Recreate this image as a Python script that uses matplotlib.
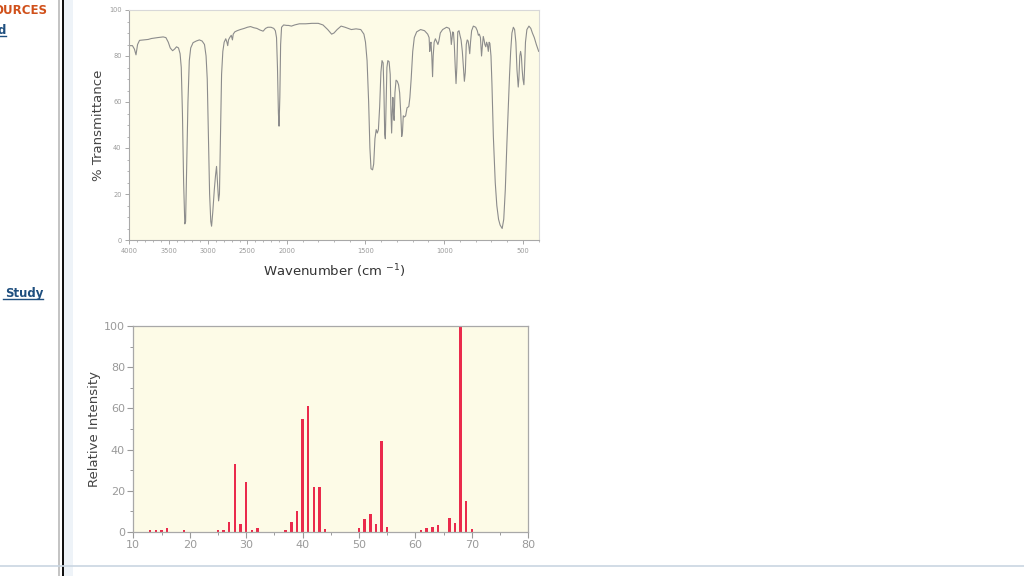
import numpy as np
import matplotlib
matplotlib.use('Agg')
import matplotlib.pyplot as plt
from matplotlib.lines import Line2D
from matplotlib.patches import Rectangle

# IR spectrum (wavenumber cm-1, % transmittance)
ir_wn = [4000, 3960, 3935, 3915, 3895, 3870, 3820, 3760, 3720, 3640,
         3570, 3535, 3505, 3480, 3450, 3425, 3400, 3375, 3355, 3340,
         3325, 3310, 3295, 3285, 3272, 3255, 3238, 3220, 3190, 3150,
         3110, 3075, 3045, 3025, 3010, 2995, 2980, 2965, 2955, 2940,
         2920, 2905, 2892, 2880, 2866, 2855, 2842, 2828, 2812, 2795,
         2775, 2760, 2750, 2740, 2725, 2705, 2690, 2680, 2660, 2630,
         2590, 2540, 2500, 2460, 2420, 2380, 2340, 2300, 2270, 2240,
         2200, 2165, 2145, 2130, 2118, 2106, 2098, 2088, 2078, 2066,
         2040, 2000, 1990, 1970, 1950, 1920, 1880, 1840, 1800, 1770,
         1740, 1715, 1700, 1680, 1655, 1630, 1610, 1590, 1560, 1530,
         1510, 1500, 1490, 1480, 1472, 1465, 1455, 1448, 1440, 1432,
         1425, 1418, 1410, 1402, 1395, 1388, 1383, 1378, 1374, 1369,
         1364, 1358, 1350, 1343, 1338, 1334, 1330, 1326, 1322, 1318,
         1313, 1306, 1298, 1290, 1283, 1276, 1270, 1265, 1260, 1253,
         1245, 1236, 1225, 1218, 1210, 1200, 1190, 1175, 1150, 1125,
         1105, 1096, 1092, 1088, 1084, 1079, 1074, 1070, 1064, 1056,
         1046, 1040, 1034, 1025, 1010, 985, 968, 960, 955, 950,
         946, 941, 936, 930, 925, 920, 914, 906, 900, 893,
         885, 878, 872, 866, 860, 854, 848, 843, 838, 833,
         826, 815, 800, 790, 783, 777, 770, 763, 757, 752,
         747, 742, 736, 731, 726, 720, 715, 710, 703, 697,
         688, 676, 666, 655, 645, 632, 622, 612, 602, 593,
         585, 578, 570, 561, 553, 545, 538, 530, 526, 520,
         515, 510, 505, 500, 494, 490, 484, 475, 462, 450,
         440, 428, 415, 400]
ir_t = [84.5, 84.5, 83, 80.5, 85, 86.8, 87, 87.2, 87.6, 88,
        88.3, 88, 86, 83.5, 82.3, 83, 84, 83.5, 81, 75,
        55, 25, 7, 8, 30, 60, 78, 83.5, 85.8, 86.5,
        87, 86.5, 85, 80, 70, 45, 20, 8, 6, 12,
        22, 28, 32, 25, 17, 20, 45, 72, 82, 86,
        87.5, 86, 84.5, 87, 88, 89, 87, 89.5, 90.5, 91,
        91.5, 92, 92.5, 92.8, 92.3, 92, 91.3, 90.8, 92, 92.5,
        92.5, 92, 91, 88, 75, 55, 49.5, 62, 85, 92.5,
        93.5, 93.3, 93.3, 93, 93.5, 94, 94, 94.2, 94.2, 93.5,
        91.5, 89.5, 90, 91.5, 93, 92.5, 92, 91.5, 91.8, 91.5,
        89.5, 86, 78, 60, 40, 31, 30.5, 33, 44, 48,
        46.5, 48, 58, 73, 78, 77, 65, 46, 44, 60,
        75, 78, 77.5, 72, 55, 46.5, 56, 62, 54, 52,
        64, 69.5, 69, 67.5, 64, 55, 45, 47, 54, 53.5,
        54, 57.5, 58, 62, 70, 82, 88, 90.5, 91.5, 91,
        89.5, 88, 82, 85, 86, 80, 71, 80, 86, 87.5,
        86, 85, 86.5, 90, 91.5, 92.5, 92, 90, 85, 88,
        90.5, 90, 85, 75, 68, 75, 90.5, 91, 89, 87,
        82, 75, 69, 73, 85, 87, 86.5, 84, 81, 86,
        91, 93, 92.5, 91, 89, 89.5, 88, 80, 85, 88.5,
        87, 85, 84, 86, 85, 82, 86, 85.5, 80, 68,
        45, 25, 15, 9, 6.5, 5, 9, 22, 42, 58,
        72, 82, 90, 92.5, 91.5, 86, 74, 66.5, 70, 80,
        82, 80, 74, 70, 67.5, 74, 86, 91.5, 93, 92,
        90, 88, 85, 82]
ir_xticks = [4000, 3500, 3000, 2500, 2000, 1500, 1000, 500]
ir_yticks = [0, 20, 40, 60, 80, 100]

# mass spectrum (m/z, relative intensity)
ms_mz = [13, 14, 15, 16, 19, 25, 26, 27, 28, 29, 30, 31, 32,
         37, 38, 39, 40, 41, 42, 43, 44,
         50, 51, 52, 53, 54, 55,
         61, 62, 63, 64, 66, 67, 68, 69, 70]
ms_int = [1, 1, 1, 2, 1, 1, 1, 5, 33, 4, 24.5, 1, 2,
          1, 5, 10, 55, 61, 22, 22, 1.5,
          2, 6.5, 8.5, 4, 44, 2.5,
          1, 2, 2.5, 3.5, 7, 4.5, 100, 15, 1.5]
ms_xticks = [10, 20, 30, 40, 50, 60, 70, 80]
ms_yticks = [0, 20, 40, 60, 80, 100]

W, H = 1024, 576
bg = '#fdfbe7'
tick_col = '#9a9a9a'
spine_col = '#a8a8a8'


def fx(px):
    return px / W


def fy(py):
    return 1 - py / H


# wavenumber axis: below 2000 cm-1 the scale is stretched twice
def fwd(w):
    w = np.asarray(w, dtype=float)
    return np.where(w >= 2000, (w - 2000) / 2.0, w - 2000)


def inv(u):
    u = np.asarray(u, dtype=float)
    return np.where(u >= 0, 2000 + 2.0 * u, u + 2000)


fig = plt.figure(figsize=(W / 100, H / 100), dpi=100)
fig.patch.set_facecolor('white')

# page bits: separator and bottom rule
fig.add_artist(Rectangle((fx(57.5), 0), fx(2), 1, transform=fig.transFigure,
                         color='#c4c4c4', lw=0))
fig.add_artist(Rectangle((fx(62), 0), fx(2), 1, transform=fig.transFigure,
                         color='#111111', lw=0))
fig.add_artist(Rectangle((fx(64), 0), fx(9), 1, transform=fig.transFigure,
                         color='#eef3f8', lw=0))
fig.add_artist(Line2D([0, 1], [fy(566), fy(566)], transform=fig.transFigure,
                      color='#c9d5e2', lw=1.2))

fig.text(fx(47), fy(10), 'OURCES', ha='right', va='center', fontsize=8.5,
         fontweight='bold', color='#d0501a', family='DejaVu Sans')
fig.text(fx(6), fy(30), 'd', ha='right', va='center', fontsize=8.5,
         fontweight='bold', color='#1f4f7f', family='DejaVu Sans')
fig.add_artist(Line2D([0, fx(6)], [fy(36), fy(36)], transform=fig.transFigure,
                      color='#1f4f7f', lw=1))
fig.text(fx(43), fy(293), 'Study', ha='right', va='center', fontsize=8.5,
         fontweight='bold', color='#1f4f7f', family='DejaVu Sans')
fig.add_artist(Line2D([fx(3), fx(43)], [fy(299), fy(299)], transform=fig.transFigure,
                      color='#1f4f7f', lw=1))

# IR spectrum
ax1 = fig.add_axes([fx(129.3), fy(240), fx(409.4), 230 / H])
ax1.set_facecolor(bg)
ax1.set_xscale('function', functions=(fwd, inv))
ax1.plot(ir_wn, ir_t, color='#8c8c8c', lw=0.8)
ax1.set_xlim(4000, 400)
ax1.set_ylim(0, 100)
ax1.set_xticks(ir_xticks)
ax1.set_xticks(np.arange(4000, 399, -100), minor=True)
ax1.set_yticks(ir_yticks)
ax1.set_yticks(np.arange(0, 101, 5), minor=True)
ax1.tick_params(axis='both', which='major', labelsize=4.8, colors=tick_col,
                length=3, width=0.6, pad=2.5)
ax1.tick_params(axis='both', which='minor', colors=tick_col, length=1.5, width=0.5)
for s in ax1.spines.values():
    s.set_color('#d8d8d8')
    s.set_linewidth(0.8)
ax1.spines['left'].set_color(spine_col)
ax1.spines['bottom'].set_color(spine_col)
ax1.set_ylabel('% Transmittance', fontsize=9.5, color='#444444', labelpad=3)
ax1.set_xlabel('Wavenumber (cm $^{-1}$)', fontsize=9.5, color='#333333', labelpad=6)

# mass spectrum
ax2 = fig.add_axes([fx(133.3), fy(532), fx(395), 206 / H])
ax2.set_facecolor(bg)
ax2.bar(ms_mz, ms_int, width=0.45, color='#ea2a4c', lw=0)
ax2.set_xlim(10, 80)
ax2.set_ylim(0, 100)
ax2.set_xticks(ms_xticks)
ax2.set_xticks(np.arange(15, 80, 10), minor=True)
ax2.set_yticks(ms_yticks)
ax2.set_yticks(np.arange(10, 100, 20), minor=True)
ax2.tick_params(axis='both', which='major', labelsize=8, colors=tick_col,
                length=4, width=0.8, pad=2)
ax2.tick_params(axis='both', which='minor', colors=tick_col, length=2.5, width=0.7)
for s in ax2.spines.values():
    s.set_color(spine_col)
    s.set_linewidth(0.9)
ax2.set_ylabel('Relative Intensity', fontsize=9.5, color='#444444', labelpad=2)

fig.savefig('out.png', dpi=100, facecolor='white')
